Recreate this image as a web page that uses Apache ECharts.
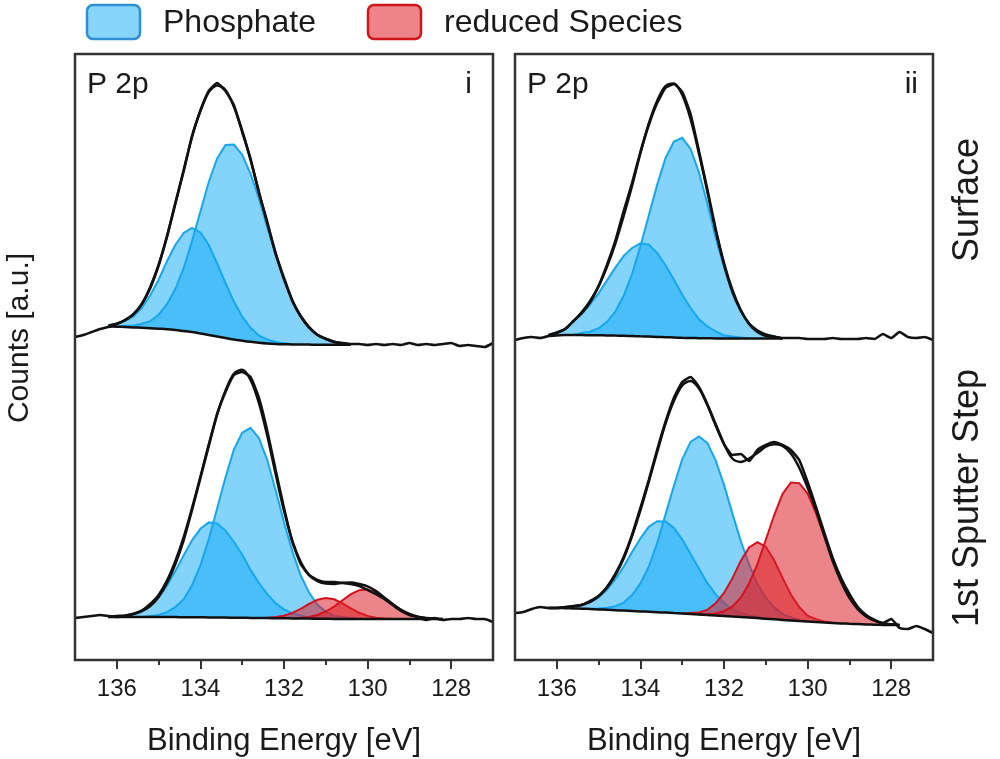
<!DOCTYPE html>
<html><head><meta charset="utf-8">
<script src="https://cdn.jsdelivr.net/npm/echarts@6/dist/echarts.min.js"></script>
<style>html,body{margin:0;padding:0;background:#fff}#chart{width:1000px;height:759px}</style>
</head><body><div id="chart"></div>
<script>
// ---------- DATA ----------
const energyGrid = [137,136.8,136.6,136.4,136.2,136,135.8,135.6,135.4,135.2,135,134.8,134.6,134.4,134.2,134,133.8,133.6,133.4,133.2,133,132.8,132.6,132.4,132.2,132,131.8,131.6,131.4,131.2,131,130.8,130.6,130.4,130.2,130,129.8,129.6,129.4,129.2,129,128.8,128.6,128.4,128.2,128,127.8,127.6,127.4,127.2,127];
const tickLabels = [136,134,132,130,128];
const minorTicks = [135,133,131,129];
const legendNames = ['Phosphate','reduced Species'];
const rowNames = ['Surface','1st Sputter Step'];
const panelTags = ['i','ii'];

// Panel i, Surface
const iTopRaw = [20,22,25,28,30,33,37,43,53,70,92,120,154,186,221,246,266,274,266,252,225,198,164,135,103,79,56,41,30,22,18,15,14,13,13,12,13,12,13,12,14,12,13,12,13,14,11,12,11,10,14];
const iTopBgStart = 136.2;
const iTopBg = [30.5,30.3,30,29.6,29.2,28.8,28.3,27.8,27,26,25,23.6,22,20.5,19,17.5,16.3,15.2,14.3,13.6,13.1,12.8,12.6,12.5,12.4,12.3,12.3,12.3,12.3,12.3];
const iTopAStart = 136.0;
const iTopA = [0,1,2,4,7,14,25,41,63,91,122,153,178,193,195,186,168,144,116,89,64,44,28,17,10,6,3,1,0];
const iTopBStart = 136.2;
const iTopB = [1,3,6,11,20,33,49,68,85,98,104,101,90,73,55,38,24,14,7,4,2,1,0];

// Panel i, 1st sputter step
const iBotRaw = [42,43,44,45,44,43,44,46,49,54,63,77,96,120,150,182,214,246,268,285,288,283,262,229,190,152,118,96,85,80,78,78,77,76,74,70,66,61,55,49,45,43,40,42,40,41,41,42,41,41,38];
const iBotBgStart = 136.2;
const iBotBg = [43,43,43,43,43,43,43,42.9,42.9,42.8,42.8,42.7,42.6,42.5,42.4,42.3,42.2,42.1,42,41.9,41.8,41.7,41.6,41.5,41.4,41.3,41.2,41.1,41,41,41,41,41,41,41,41,41,41,41,41,41];
const iBotAStart = 135.4;
const iBotA = [0,1,2,5,10,18,32,52,78,109,140,168,185,190,180,158,128,96,67,43,26,14,7,3,2,1,0];
const iBotBStart = 136.2;
const iBotB = [0,1,1.5,3.3,6.5,12,20,31.5,46,62,77,88.5,95,94,87,76,63,48,35,24,15,9,5,3,1,1,0];
const iBotCStart = 132.6;
const iBotC = [0,0.3,1.1,2.6,5.5,9.7,14.7,18.9,20.9,19.6,15.6,10.7,6.2,3.1,1.3,0.4,0];
const iBotDStart = 131.8;
const iBotD = [0,0.7,1.7,3.7,7.3,12.4,18.7,24.8,28.8,29.5,26.6,21.2,14.9,9.1,5,2.3,1,0.3,0];

// Panel ii, Surface
const iiTopRaw = [17,19,20,19,21,24,28,36,44,55,71,92,116,146,174,205,232,254,269,273,265,243,206,168,128,94,67,47,33,25,21,20,19,19,19,18,18,18,19,18,18,18,19,18,23,19,25,20,19,20,17];
const iiTopBgStart = 136.2;
const iiTopBg = [21,21.5,22,22,21.9,21.8,21.7,21.6,21.4,21.2,21,20.7,20.4,20.1,19.8,19.5,19.2,19,18.8,18.7,18.6,18.5,18.5,18.5,18.5,18.5,18.5,18.5,18.5];
const iiTopAStart = 135.6;
const iiTopA = [0,2,3.5,7,13.5,24,40,62,90,121,152,179,196,200,189,166,135,101,71,45,27,15,8,4,2,0];
const iiTopBStart = 136.2;
const iiTopB = [1,3,6,14,21,31,42,55,68,80,88,93,92,84,72,58,43,30,19,12,7,3,2,1,0];

// Panel ii, 1st sputter step
const iiBotRaw = [47,48,51,53,52,52,53,54,55,59,64,73,86,103,125,152,180,210,238,262,278,283,273,256,236,216,205,206,199,210,215,218,215,210,200,178,153,127,102,82,66,53,45,40,37,41,32,31,34,31,27];
const iiBotBgStart = 136.2;
const iiBotBg = [52,52,51.8,51.6,51.3,51,50.6,50.2,49.8,49.4,49,48.6,48.2,47.8,47.4,47,46.6,46.1,45.6,45.1,44.6,44.1,43.6,43.1,42.5,41.9,41.3,40.7,40.1,39.5,38.9,38.4,37.9,37.4,37,36.6,36.2,35.9,35.6,35.3,35.1,35,35];
const iiBotAStart = 135.2;
const iiBotA = [0,1,2,4,8,16,28,45,69,98,127,154,172,178,172,155,131,103,76,53,34,21,12,6,3,1.4,0];
const iiBotBStart = 136.0;
const iiBotB = [0,1,2,4,7,12,20,31,44,59,73,85,91,91,85,74,60,46,32,21,13,7,4,2,1,0];
const iiBotCStart = 133.0;
const iiBotC = [0,1,2,5,12,23,38,56,70,76,72,59,42,26,14,6,3,1,0];
const iiBotDStart = 132.6;
const iiBotD = [0,0.8,2,4.7,9.9,19,34,54,79,104,126,138,138,128,109,86,62,42,26,15,8,4,1.7,0.7,0];

// ---------- BUILD ----------
const FONT = "'Liberation Sans', Arial, Helvetica, sans-serif";
const TXT = '#1a1a1a';
const FRAME = '#333333';
const STYLE = {
  p: {line: '#18a6ee', fill: 'rgba(20,170,245,0.52)'},
  r: {line: '#d4111d', fill: 'rgba(221,32,42,0.55)'}
};
function idxOf(e){ return energyGrid.findIndex(v => Math.abs(v - e) < 1e-6); }

const panels = [
  {grid:0, raw:iTopRaw, bgStart:iTopBgStart, bg:iTopBg, comps:[[iTopBStart,iTopB,'p'],[iTopAStart,iTopA,'p']]},
  {grid:1, raw:iBotRaw, bgStart:iBotBgStart, bg:iBotBg, comps:[[iBotBStart,iBotB,'p'],[iBotAStart,iBotA,'p'],[iBotCStart,iBotC,'r'],[iBotDStart,iBotD,'r']]},
  {grid:2, raw:iiTopRaw, bgStart:iiTopBgStart, bg:iiTopBg, comps:[[iiTopBStart,iiTopB,'p'],[iiTopAStart,iiTopA,'p']]},
  {grid:3, raw:iiBotRaw, bgStart:iiBotBgStart, bg:iiBotBg, comps:[[iiBotBStart,iiBotB,'p'],[iiBotAStart,iiBotA,'p'],[iiBotCStart,iiBotC,'r'],[iiBotDStart,iiBotD,'r']]}
];

const series = [];
panels.forEach(p => {
  const b0 = idxOf(p.bgStart);
  const env = p.bg.slice();
  p.comps.forEach(([start, vals, kind]) => {
    const c0 = idxOf(start);
    const rows = vals.map((v, k) => {
      const gi = c0 + k;
      const b = p.bg[gi - b0];
      env[gi - b0] += v;
      return [energyGrid[gi], b + v, b];
    });
    const st = STYLE[kind];
    series.push({
      type: 'custom', name: kind === 'p' ? legendNames[0] : legendNames[1],
      xAxisIndex: p.grid, yAxisIndex: p.grid, data: rows, clip: true,
      encode: {x: 0, y: [1, 2]}, silent: true,
      renderItem: function (params, api) {
        if (params.dataIndex !== 0) return null;
        const top = rows.map(r => api.coord([r[0], r[1]]));
        const bot = rows.map(r => api.coord([r[0], r[2]])).reverse();
        return {type: 'group', children: [
          {type: 'polygon', shape: {points: top.concat(bot)}, style: {fill: st.fill, stroke: null}},
          {type: 'polyline', shape: {points: top}, style: {fill: null, stroke: st.line, lineWidth: 2}}
        ]};
      }
    });
  });
  const lineBase = {type: 'line', xAxisIndex: p.grid, yAxisIndex: p.grid, showSymbol: false, symbol: 'none', silent: true};
  series.push(Object.assign({}, lineBase, {name: 'Background', smooth: 0.3,
    data: p.bg.map((b, k) => [energyGrid[b0 + k], b]), lineStyle: {color: '#111', width: 2.5}}));
  series.push(Object.assign({}, lineBase, {name: 'Envelope', smooth: 0.3,
    data: env.map((b, k) => [energyGrid[b0 + k], b]), lineStyle: {color: '#111', width: 2.5}}));
  series.push(Object.assign({}, lineBase, {name: 'Data', smooth: 0.15,
    data: p.raw.map((v, k) => [energyGrid[k], v]), lineStyle: {color: '#111', width: 2.6}}));
});

const PL = [75, 515], PT = 54, PW = 418, HH = 303;
const grids = [
  {left: PL[0], top: PT, width: PW, height: HH},
  {left: PL[0], top: PT + HH, width: PW, height: HH},
  {left: PL[1], top: PT, width: PW, height: HH},
  {left: PL[1], top: PT + HH, width: PW, height: HH}
];
const xAxes = [];
for (let g = 0; g < 4; g++) {
  const bottom = g % 2 === 1;
  xAxes.push({
    type: 'value', gridIndex: g, min: 127, max: 137, inverse: true, position: 'bottom', show: bottom,
    axisLine: {show: false}, splitLine: {show: false},
    axisTick: {show: true, customValues: tickLabels, length: 9, inside: false, lineStyle: {color: FRAME, width: 2}},
    axisLabel: {show: true, customValues: tickLabels, margin: 17, fontSize: 24, color: TXT, fontFamily: FONT},
    name: bottom ? 'Binding Energy [eV]' : '', nameLocation: 'middle', nameGap: 66,
    nameTextStyle: {fontSize: 31, color: TXT, fontFamily: FONT}
  });
}
[1, 3].forEach(g => xAxes.push({
  type: 'value', gridIndex: g, min: 127, max: 137, inverse: true, position: 'bottom',
  axisLine: {show: false}, splitLine: {show: false}, axisLabel: {show: false},
  axisTick: {show: true, customValues: minorTicks, length: 5, inside: false, lineStyle: {color: FRAME, width: 2}}
}));
const yAxes = [0, 1, 2, 3].map(g => ({type: 'value', gridIndex: g, min: 0, max: 303, show: false}));

function txt(text, x, y, size, align, rotation) {
  return {
    type: 'text', x: x, y: y, z: 120, rotation: rotation || 0,
    style: {text: text, fontSize: size, fontFamily: FONT, fill: TXT, align: align || 'left', verticalAlign: 'middle'}
  };
}

const graphic = [
  {type: 'rect', z: 110, shape: {x: PL[0], y: PT, width: PW, height: 2 * HH}, style: {fill: null, stroke: FRAME, lineWidth: 2.5}},
  {type: 'rect', z: 110, shape: {x: PL[1], y: PT, width: PW, height: 2 * HH}, style: {fill: null, stroke: FRAME, lineWidth: 2.5}},
  {type: 'rect', z: 120, shape: {x: 87, y: 5, width: 53, height: 34, r: 6}, style: {fill: '#87d4fa', stroke: '#2f8fd0', lineWidth: 2.5}},
  txt(legendNames[0], 163, 23, 32),
  {type: 'rect', z: 120, shape: {x: 368, y: 5, width: 53, height: 34, r: 6}, style: {fill: '#ee8489', stroke: '#d0141c', lineWidth: 2.5}},
  txt(legendNames[1], 444, 23, 32),
  txt('P 2p', 87, 85, 30),
  txt('P 2p', 527, 85, 30),
  txt(panelTags[0], 472, 85, 30, 'right'),
  txt(panelTags[1], 918, 85, 30, 'right'),
  txt('Counts [a.u.]', 20, 338, 30, 'center', Math.PI / 2),
  txt(rowNames[0], 968, 200, 36, 'center', Math.PI / 2),
  txt(rowNames[1], 968, 498, 36, 'center', Math.PI / 2)
];

const chart = echarts.init(document.getElementById('chart'), null, {renderer: 'canvas'});
chart.setOption({
  animation: false,
  backgroundColor: '#ffffff',
  grid: grids,
  xAxis: xAxes,
  yAxis: yAxes,
  series: series,
  graphic: graphic
});
</script>
</body></html>
